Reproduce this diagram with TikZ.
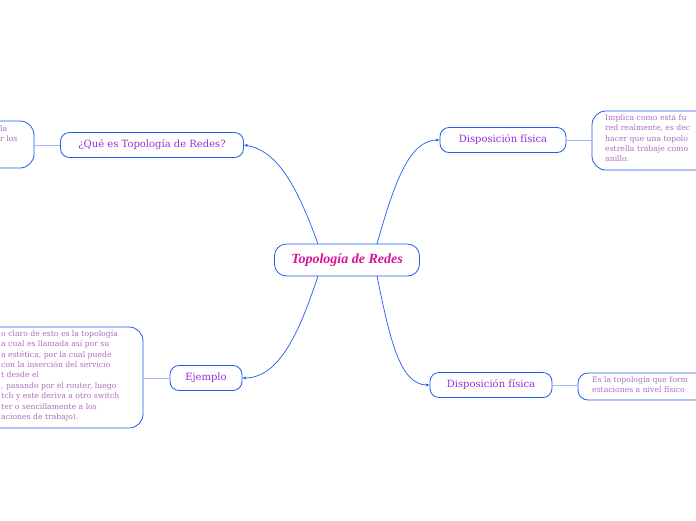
\documentclass[tikz,border=0pt]{standalone}
\usepackage{fontspec}
\setmainfont{DejaVu Serif}
\newfontfamily\cfont{Liberation Serif}
\usetikzlibrary{arrows.meta}
\definecolor{edge}{HTML}{1F5BF0}
\definecolor{light}{HTML}{9DB8F5}
\definecolor{ntext}{HTML}{9A2BD8}
\definecolor{dtext}{HTML}{B06CC0}
\definecolor{ctext}{HTML}{D6129A}
\tikzset{
 topic/.style={draw=edge,line width=0.8pt,rounded corners=9pt,fill=white,text=ntext,font=\fontsize{10}{12}\selectfont,minimum height=25pt,inner xsep=8pt},
 detail/.style={draw=edge,line width=0.8pt,rounded corners=14pt,fill=white},
 dtxt/.style={text=dtext,font=\fontsize{7.7}{10.4}\selectfont,align=left,inner sep=0pt},
 conn/.style={edge,line width=0.7pt,-{Stealth[length=4pt,width=3pt]}},
 sub/.style={light,line width=1pt}
}
\begin{document}
\begin{tikzpicture}[x=1pt,y=-1pt]
\useasboundingbox (0,0) rectangle (696,520);
\clip (0,0) rectangle (696,520);
\node[draw=edge,line width=0.8pt,rounded corners=12pt,minimum width=145pt,minimum height=32pt,text=ctext,font=\cfont\fontsize{14}{16}\selectfont\bfseries\itshape] (c) at (347,260) {Topología de Redes};
\node[topic,minimum width=183pt] (q) at (152,145) {¿Qué es Topología de Redes?};
\node[topic,minimum width=126pt] (d1) at (503,140) {Disposición física};
\node[topic,minimum width=122pt] (d2) at (491,385) {Disposición física};
\node[topic,minimum width=72pt] (e) at (206,378) {Ejemplo};
% detail boxes
\draw[detail] (-40,121) rectangle (34,168);
\node[dtxt,anchor=north west] (tq) at (0,125) {la\\r los};
\draw[detail] (592,111) rectangle (740,170);
\node[dtxt,anchor=north west] (td1) at (605,114) {Implica como está fu\\red realmente, es dec\\hacer que una topolo\\estrella trabaje como\\anillo.};
\draw[detail,rounded corners=10pt] (578,373) rectangle (740,400);
\node[dtxt,anchor=north west] (td2) at (592,376) {Es la topología que form\\estaciones a nivel físico};
\draw[detail] (-40,327) rectangle (143,428);
\node[dtxt,anchor=north west] (te) at (1,330) {o claro de esto es la topología\\a cual es llamada así por su\\a estética, por la cual puede\\ con la inserción del servicio\\t desde el\\, pasando por el router, luego\\tch y este deriva a otro switch\\ter o sencillamente a los\\aciones de trabajo).};
\coordinate (lq) at (34,145);
\coordinate (ld1) at (592,140);
\coordinate (ld2) at (578,385);
\coordinate (le) at (143,378);
\draw[sub] (q.west) -- (lq);
\draw[sub] (d1.east) -- (ld1);
\draw[sub] (d2.east) -- (ld2);
\draw[sub] (e.west) -- (le);
% main connectors
\draw[conn] (318,244) .. controls (295,180) and (275,150) .. (q.east);
\draw[conn] (377,244) .. controls (395,180) and (410,140) .. (d1.west);
\draw[conn] (377,276) .. controls (390,340) and (400,385) .. (d2.west);
\draw[conn] (318,276) .. controls (300,330) and (280,378) .. (e.east);
\end{tikzpicture}
\end{document}
